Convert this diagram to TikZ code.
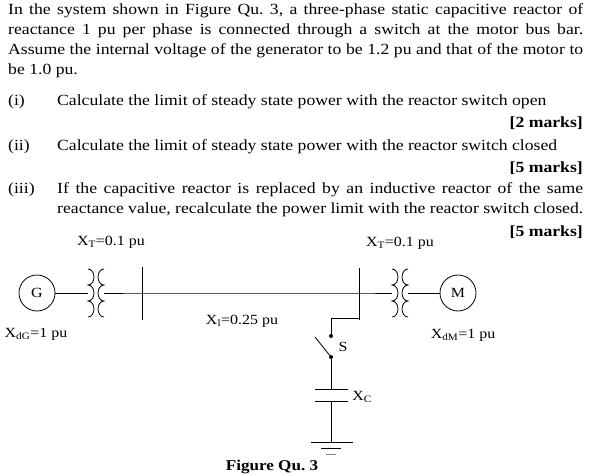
\documentclass[tikz,border=0pt]{standalone}
\usepackage{fontspec}
\setmainfont{Liberation Serif}[FakeStretch=1.14]
\frenchspacing
\tikzset{
  txt/.style={inner sep=0pt,font=\fontsize{15.5}{20}\selectfont},
  para/.style={txt,anchor=north west,text width=575pt,align=justify},
  lbl/.style={inner sep=0pt,font=\fontsize{14}{15}\selectfont},
  wire/.style={line width=0.8pt},
  mach/.style={circle,draw,line width=0.8pt,minimum size=36pt,inner sep=0pt,font=\fontsize{14}{15}\selectfont},
  dotc/.style={circle,fill,inner sep=0pt,minimum size=4pt}
}
\newcommand{\coilpair}[2]{%
  \draw[wire] (#1,#2) arc[start angle=-90,end angle=90,x radius=6,y radius=8] arc[start angle=-90,end angle=90,x radius=6,y radius=8] arc[start angle=-90,end angle=90,x radius=6,y radius=8];
  \draw[wire] (#1+16,#2) arc[start angle=270,end angle=90,x radius=6,y radius=8] arc[start angle=270,end angle=90,x radius=6,y radius=8] arc[start angle=270,end angle=90,x radius=6,y radius=8];}
\begin{document}
\begin{tikzpicture}[x=1pt,y=-1pt]
\useasboundingbox (0,0) rectangle (602,476);
% text
\node[para] (p1) at (8,3) {In the system shown in Figure Qu. 3, a three-phase static capacitive reactor of\linebreak reactance 1 pu per phase is connected through a switch at the motor bus bar.\linebreak Assume the internal voltage of the generator to be 1.2 pu and that of the motor to\linebreak be 1.0 pu.};
\node[txt,anchor=base west] (i1) at (8,106) {(i)};
\node[txt,anchor=base west] (i1t) at (57,106) {Calculate the limit of steady state power with the reactor switch open};
\node[txt,anchor=base east] (m1) at (583,128) {\bfseries [2 marks]};
\node[txt,anchor=base west] (i2) at (8,150) {(ii)};
\node[txt,anchor=base west] (i2t) at (57,150) {Calculate the limit of steady state power with the reactor switch closed};
\node[txt,anchor=base east] (m2) at (583,172) {\bfseries [5 marks]};
\node[txt,anchor=base west] (i3) at (8,193) {(iii)};
\node[para,text width=526pt,anchor=base west] (i3t) at (57,193) {If the capacitive reactor is replaced by an inductive reactor of the same\linebreak reactance value, recalculate the power limit with the reactor switch closed.};
\node[txt,anchor=base east] (m3) at (583,236) {\bfseries [5 marks]};
% circuit
\node[mach] (G) at (37,293) {G};
\node[mach] (M) at (458,293) {M};
\coilpair{88}{269}
\coilpair{392}{269}
\coordinate (lt) at (88,293); \coordinate (lr) at (104,293);
\coordinate (rt) at (392,293); \coordinate (rr) at (408,293);
\coordinate (b1t) at (142,267); \coordinate (b1b) at (142,320);
\coordinate (b2t) at (359,268); \coordinate (b2b) at (359,320);
\draw[wire] (b1t) -- (b1b);
\draw[wire] (b2t) -- (b2b);
\draw[wire] (G.east) -- (lt);
\draw[wire] (lr) -- (142,293) -- (359,293) -- (rt);
\draw[wire] (rr) -- (M.west);
\node[dotc] (d1) at (331,336) {};
\node[dotc] (d2) at (331,357) {};
\draw[wire] (359,318) -- (331,318) -- (d1);
\coordinate (bl) at (315,337);
\draw[wire] (bl) -- (d2);
\coordinate (c1) at (331,389); \coordinate (c2) at (331,401);
\coordinate (gnd) at (331,442);
\draw[wire] (d2) -- (c1);
\draw[wire] (315,389) -- (348,389);
\draw[wire] (315,401) -- (348,401);
\draw[wire] (c2) -- (gnd);
\draw[wire] (311,442) -- (353,442);
\draw[wire] (321,448) -- (341,448);
\draw[wire,gray] (326,454) -- (336,454);
% labels
\node[lbl] (xt1) at (111,242) {X\textsubscript{T}=0.1 pu};
\node[lbl] (xt2) at (400,243) {X\textsubscript{T}=0.1 pu};
\node[lbl] (xdg) at (36,334) {X\textsubscript{dG}=1 pu};
\node[lbl] (xl) at (242,321) {X\textsubscript{l}=0.25 pu};
\node[lbl] (xdm) at (463,335) {X\textsubscript{dM}=1 pu};
\node[lbl] (s) at (343,347) {S};
\node[lbl] (xc) at (362,397) {X\textsubscript{C}};
\node[txt,font=\fontsize{15}{16}\selectfont\bfseries] (fig) at (272,467) {Figure Qu. 3};
\end{tikzpicture}
\end{document}
